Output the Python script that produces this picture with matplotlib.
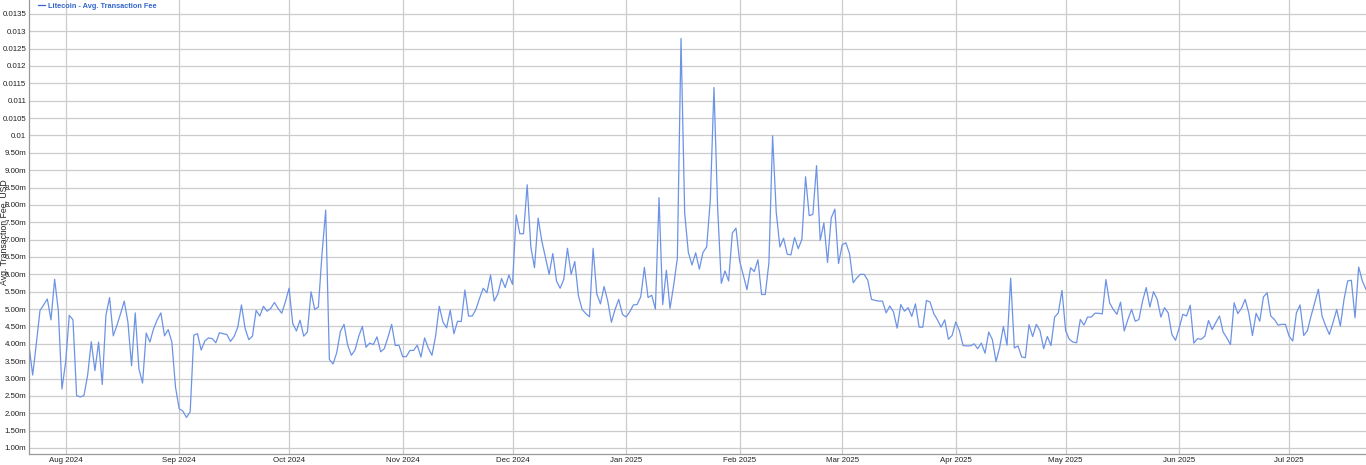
import numpy as np
import pandas as pd
import matplotlib
matplotlib.use('Agg')
import matplotlib.pyplot as plt
from matplotlib.ticker import FuncFormatter, MultipleLocator

plt.rcParams['font.family'] = ['Liberation Sans', 'DejaVu Sans']

# Litecoin avg. transaction fee, daily, in milli-USD
start_date = '2024-07-22'

fee_jul22 = [3.95, 3.1, 4.0, 4.96, 5.12, 5.29, 4.69, 5.86, 4.96, 2.70,
             3.47, 4.82, 4.69, 2.51, 2.47, 2.51, 3.09, 4.06, 3.23, 4.05,
             2.83, 4.82, 5.33, 4.23, 4.53, 4.87, 5.23, 4.63, 3.37, 4.89,
             3.28, 2.87, 4.31, 4.05, 4.43, 4.69, 4.89, 4.23, 4.41, 4.05,
             2.75, 2.13]
fee_sep02 = [2.06, 1.88, 2.04, 4.25, 4.29, 3.82, 4.08, 4.17, 4.15, 4.03,
             4.32, 4.29, 4.27, 4.07, 4.21, 4.48, 5.12, 4.44, 4.12, 4.22,
             4.96, 4.80, 5.08, 4.94, 5.02, 5.19, 5.02, 4.88, 5.21, 5.60,
             4.58, 4.37, 4.68, 4.22, 4.34, 5.50, 4.99, 5.06, 6.6, 7.85]
fee_oct12 = [3.55, 3.42, 3.74, 4.35, 4.56, 3.96, 3.67, 3.82, 4.21, 4.50,
             3.90, 4.02, 3.98, 4.20, 3.77, 3.86, 4.19, 4.56, 3.95, 3.96,
             3.63, 3.63, 3.81, 3.81, 3.96, 3.62, 4.17, 3.88, 3.67, 4.22,
             5.08, 4.63, 4.46, 4.97, 4.29, 4.65, 4.64, 5.55, 4.80]
fee_nov20 = [4.80, 4.99, 5.31, 5.60, 5.47, 5.98, 5.23, 5.44, 5.88, 5.62,
             5.98, 5.71, 7.71, 7.17, 7.17, 8.58, 6.79, 6.19, 7.62, 6.96,
             6.48, 6.00, 6.60, 5.81, 5.60, 5.86, 6.75, 6.00, 6.37, 5.38,
             4.99, 4.87, 4.78, 6.75, 5.44, 5.15, 5.65, 5.23, 4.62, 4.99]
fee_dec30 = [5.28, 4.85, 4.77, 4.92, 5.12, 5.13, 5.35, 6.20, 5.33, 5.40,
             5.00, 8.21, 5.13, 6.12, 5.02, 5.69, 6.46, 12.79, 7.76, 6.63,
             6.27, 6.62, 6.15, 6.63, 6.79, 8.14, 11.38, 7.90, 5.74, 6.10,
             5.81, 7.19, 7.33, 6.38, 5.98, 5.56, 6.19, 6.08, 6.42]
fee_feb07 = [5.42, 5.42, 6.34, 9.99, 7.78, 6.79, 7.04, 6.58, 6.56, 7.06,
             6.74, 7.01, 8.81, 7.69, 7.73, 9.13, 6.98, 7.48, 6.34, 7.62,
             7.88, 6.31, 6.85, 6.91, 6.60, 5.76, 5.90, 6.00, 6.00, 5.83,
             5.28, 5.25, 5.23, 5.23, 4.89, 5.09, 4.92, 4.45, 5.13, 4.94]
fee_mar19 = [5.04, 4.79, 5.15, 4.48, 4.48, 5.25, 5.20, 4.87, 4.69, 4.48,
             4.69, 4.13, 4.24, 4.63, 4.38, 3.95, 3.94, 3.94, 4.00, 3.86,
             4.02, 3.73, 4.34, 4.12, 3.49, 3.90, 4.50, 3.96, 5.89, 3.88,
             3.94, 3.62, 3.60, 4.55, 4.21, 4.56, 4.38, 3.86, 4.21, 3.95]
fee_apr28 = [4.77, 4.89, 5.54, 4.38, 4.13, 4.05, 4.03, 4.70, 4.54, 4.77,
             4.77, 4.88, 4.88, 4.86, 5.85, 5.18, 4.99, 4.85, 5.20, 4.37,
             4.70, 4.99, 4.65, 4.70, 5.23, 5.62, 5.06, 5.50, 5.28, 4.77,
             5.04, 4.89, 4.27, 4.10, 4.46, 4.85, 4.80, 5.11, 4.02]
fee_jun06 = [4.15, 4.13, 4.22, 4.67, 4.41, 4.61, 4.80, 4.34, 4.17, 3.98,
             5.18, 4.87, 5.02, 5.28, 4.89, 4.24, 4.88, 4.65, 5.35, 5.47,
             4.80, 4.70, 4.54, 4.56, 4.56, 4.22, 4.08, 4.89, 5.12, 4.24,
             4.38, 4.80, 5.18, 5.57, 4.80, 4.51, 4.27, 4.61, 4.99, 4.51,
             5.28, 5.81, 5.83, 4.75, 6.21, 5.81, 5.57]

fee_musd = (fee_jul22 + fee_sep02 + fee_oct12 + fee_nov20 + fee_dec30
            + fee_feb07 + fee_mar19 + fee_apr28 + fee_jun06)

dates = pd.date_range(start_date, periods=len(fee_musd), freq='D')
fee = np.array(fee_musd) / 1000.0
month_ticks = pd.date_range('2024-08-01', '2025-07-01', freq='MS')

W, H = 1366, 465
fig = plt.figure(figsize=(W / 100, H / 100), dpi=100)
ax = fig.add_axes([29 / W, 11 / H, 1 - 29 / W, 1 - 11 / H])

line, = ax.plot(dates, fee, color='#6d93e6', lw=0.9,
                label='Litecoin - Avg. Transaction Fee')

ax.set_xlim(dates[0], dates[-1])
ax.set_ylim(0.000827, 0.0139)


def fee_fmt(v, pos):
    if v < 0.00999:
        return f'{v * 1000:.2f}m'
    return f'{round(v, 4):g}'


ax.yaxis.set_major_locator(MultipleLocator(0.0005))
ax.yaxis.set_major_formatter(FuncFormatter(fee_fmt))
ax.set_xticks(month_ticks)
ax.set_xticklabels([d.strftime('%b %Y') for d in month_ticks])

ax.grid(True, color='#cccccc', lw=0.9)
ax.set_axisbelow(True)
ax.tick_params(length=0, labelsize=5.7, colors='#222222', pad=2)
for s in ['top', 'right']:
    ax.spines[s].set_visible(False)
for s in ['left', 'bottom']:
    ax.spines[s].set_color('#999999')
    ax.spines[s].set_linewidth(0.9)

# axis title sits over the tick labels, as in the original
fig.text(5 / W, 1 - 232 / H, 'Avg. Transaction Fee, USD', rotation=90,
         ha='center', va='center', fontsize=6.3, color='#222222')

leg = ax.legend(loc='upper left', bbox_to_anchor=(8 / 1337, 1 - 2 / 454),
                frameon=False, handlelength=1.0, handletextpad=0.4,
                borderpad=0.1, borderaxespad=0,
                prop={'weight': 'bold', 'size': 5.3})
for t in leg.get_texts():
    t.set_color('#3366cc')
leg.legend_handles[0].set_color('#3366cc')

fig.savefig('out.png', dpi=100)
